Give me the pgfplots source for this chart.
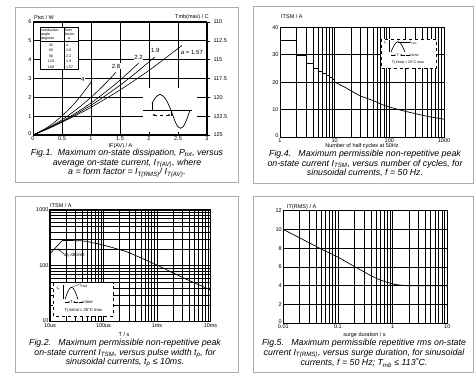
\documentclass[border=0pt]{standalone}
\usepackage{pgfplots}
\pgfplotsset{compat=1.18}
\usepackage{fontspec}
\setmainfont{Liberation Sans}
\usetikzlibrary{arrows.meta}
\newcommand{\tk}{\fontsize{5.5}{6}\selectfont}
\newcommand{\capfont}{\fontsize{8.8}{9.5}\selectfont\itshape}
\newcommand{\inft}{\fontsize{3.6}{4}\selectfont}
\pgfplotsset{
  ds/.style={scale only axis, anchor=south west,
    axis line style={line width=1pt},
    grid style={black,line width=0.75pt},
    minor grid style={black,line width=0.75pt},
    major tick length=0pt, minor tick length=0pt,
    tick label style={font=\tk},
    /pgf/number format/assume math mode=true,
    xticklabel style={yshift=1.8pt},
    yticklabel style={xshift=2pt},
  }
}
\begin{document}
\begin{tikzpicture}
\useasboundingbox (0,0) rectangle (474pt,377pt);
% ---------------- Panel 1 ----------------
\begin{axis}[ds, at={(33pt,242pt)}, width=174pt, height=113pt,
  xmin=0, xmax=3, ymin=0, ymax=6,
  xtick={0,0.5,1,1.5,2,2.5,3}, xticklabels={0,0.5,1,1.5,2,2.5,3},
  ytick={0,1,2,3,4,5,6}, yticklabels={\raisebox{2.5pt}{0},1,2,3,4,5,6}, grid=major]
\addplot[black, line width=0.6pt, smooth] coordinates {(0,0)(0.25,0.41)(0.5,1.01)(0.75,1.80)(1.0,2.80)};
\addplot[black, line width=0.6pt, smooth] coordinates {(0,0)(0.25,0.36)(0.5,0.81)(0.75,1.36)(1.0,2.0)(1.25,2.74)(1.43,3.33)};
\addplot[black, line width=0.6pt, smooth] coordinates {(0,0)(0.25,0.34)(0.5,0.73)(0.75,1.19)(1.0,1.70)(1.25,2.28)(1.5,2.91)(1.83,3.84)};
\addplot[black, line width=0.6pt, smooth] coordinates {(0,0)(0.25,0.33)(0.5,0.70)(0.75,1.12)(1.0,1.58)(1.25,2.09)(1.5,2.64)(1.75,3.24)(2.1,4.14)};
\addplot[black, line width=0.6pt, smooth] coordinates {(0,0)(0.25,0.32)(0.5,0.68)(0.75,1.06)(1.0,1.47)(1.5,2.39)(2.0,3.43)(2.57,4.76)};
\node[font=\fontsize{6}{7}\selectfont, fill=white, inner sep=0.5pt] at (axis cs:0.86,2.95) {4};
\node[font=\fontsize{6}{7}\selectfont, fill=white, inner sep=0.5pt] at (axis cs:1.43,3.66) {2.8};
\node[font=\fontsize{6}{7}\selectfont, fill=white, inner sep=0.5pt] at (axis cs:1.82,4.13) {2.2};
\node[font=\fontsize{6}{7}\selectfont, fill=white, inner sep=0.5pt] at (axis cs:2.11,4.51) {1.9};
\node[font=\fontsize{6}{7}\selectfont, fill=white, inner sep=0.5pt] at (axis cs:2.74,4.37) {a = 1.57};
\end{axis}
\begin{axis}[ds, at={(33pt,242pt)}, width=174pt, height=113pt,
  hide x axis, axis y line*=right, xmin=0, xmax=3,
  ymin=110, ymax=125, y dir=reverse,
  ytick={110,112.5,115,117.5,120,122.5,125},
  yticklabels={110,112.5,115,117.5,120,122.5,125},
  major tick length=3pt, tick align=outside, tick style={black, line width=0.5pt},
  yticklabel style={xshift=-2pt}]
\addplot[draw=none] coordinates {(0,110)};
\end{axis}
% ---------------- Fig.4 (top right) ----------------
\begin{axis}[ds, at={(280pt,239.7pt)}, width=164pt, height=110pt,
  xmode=log, xmin=1, xmax=1000, ymin=0, ymax=40,
  xtick={1,10,100,1000}, xticklabels={1,10,100,1000},
  ytick={0,10,20,30,40}, yticklabels={\raisebox{2.5pt}{0},10,20,30,40},
  xmajorgrids, xminorgrids, ymajorgrids]
\addplot[const plot, black, line width=0.7pt] coordinates {(1,35.2)(2,29.8)(3,26.9)(4,25.0)(5,23.9)(6,23.2)(7,22.5)(8,21.8)(9,21.0)(10,20.1)};
\addplot[smooth, black, line width=0.7pt] coordinates {(10,20.1)(15,18.3)(20,16.9)(30,15.0)(50,13.4)(70,12.1)(100,11.0)(200,9.4)(300,8.6)(500,7.6)(700,7.1)(1000,6.6)};
\end{axis}
% ---------------- Fig.2 (bottom left) ----------------
\begin{axis}[ds, at={(50pt,55.3pt)}, width=160.5pt, height=111.7pt,
  xmode=log, ymode=log, xmin=1e-5, xmax=1e-2, ymin=10, ymax=1000,
  xtick={1e-5,1e-4,1e-3,1e-2}, xticklabels={10us,100us,1ms,10ms},
  ytick={10,100,1000}, yticklabels={\raisebox{2.5pt}{10},100,1000},
  grid=both]
\addplot[black, line width=0.7pt] coordinates {(1e-5,165)(1.7e-5,285)};
\addplot[smooth, black, line width=0.7pt] coordinates {(1.7e-5,285)(4e-5,280)(6e-5,262)(1e-4,235)(2e-4,195)(3e-4,172)(1e-3,103)(3e-3,62)(1e-2,37)};
\end{axis}
% ---------------- Fig.5 (bottom right) ----------------
\begin{axis}[ds, at={(283.3pt,53.7pt)}, width=164pt, height=112.6pt,
  xmode=log, xmin=0.01, xmax=10, ymin=0, ymax=12,
  xtick={0.01,0.1,1,10}, xticklabels={0.01,0.1,1,10},
  ytick={0,2,4,6,8,10,12}, yticklabels={\raisebox{2.5pt}{0},2,4,6,8,10,12},
  xmajorgrids, xminorgrids, ymajorgrids]
\addplot[smooth, black, line width=0.7pt] coordinates {(0.01,10)(0.02,9.1)(0.05,7.9)(0.1,7.05)(0.2,6.05)(0.5,4.8)(1,4.2)(1.5,4.05)(2,4.0)(3,4.0)(10,4.0)};
\end{axis}
% ---------------- annotations (pixel coordinates, y down) ----------------
\begin{scope}[shift={(0,377pt)}, x=1pt, y=-1pt]
% frames
\draw[gray!65, line width=0.9pt] (15,7) rectangle (238,182);
\draw[gray!65, line width=0.9pt] (253,6) rectangle (473,183);
\draw[gray!65, line width=0.9pt] (15,196) rectangle (238,372);
\draw[gray!65, line width=0.9pt] (253,196) rectangle (473,372);
% axis labels
\node[font=\tk, anchor=west, inner sep=0] at (34,17.3) {Ptot / W};
\node[font=\tk, anchor=east, inner sep=0] at (209,17.3) {Tmb(max) / C};
\node[font=\tk, inner sep=0] at (120.5,146.5) {IF(AV) / A};
\node[font=\tk, anchor=west, inner sep=0] at (281,16.7) {ITSM / A};
\node[font=\tk, inner sep=0] at (362,146.5) {Number of half cycles at 50Hz};
\node[font=\tk, anchor=west, inner sep=0] at (50,205.7) {ITSM / A};
\node[font=\tk, inner sep=0] at (124,334.5) {T / s};
\node[font=\tk, anchor=west, inner sep=0] at (287,207.3) {IT(RMS) / A};
\node[font=\tk, inner sep=0] at (364.5,335.5) {surge duration / s};
% captions
\node[font=\capfont, align=center] at (127,163.5) {Fig.1.\ \ Maximum on-state dissipation, P\textsubscript{tot}, versus\\average on-state current, I\textsubscript{T(AV)}, where\\a = form factor = I\textsubscript{T(RMS)}/ I\textsubscript{T(AV)}.};
\node[font=\capfont, align=center] at (365,163.5) {Fig.4.\ \ \ Maximum permissible non-repetitive peak\\on-state current I\textsubscript{TSM}, versus number of cycles, for\\sinusoidal currents, f = 50 Hz.};
\node[font=\capfont, align=center] at (125,353.3) {Fig.2.\ \ \ Maximum permissible non-repetitive peak\\on-state current I\textsubscript{TSM}, versus pulse width t\textsubscript{p}, for\\sinusoidal currents, t\textsubscript{p} ≤ 10ms.};
\node[font=\capfont, align=center] at (364,353.3) {Fig.5.\ \ \ Maximum permissible repetitive rms on-state\\current I\textsubscript{T(RMS)}, versus surge duration, for sinusoidal\\currents, f = 50 Hz; T\textsubscript{mb} ≤ 113˚C.};
% panel 1 table
\fill[white] (40,27) rectangle (78,69);
\draw[line width=0.5pt] (40,27) rectangle (78,69);
\draw[line width=0.4pt] (64,27) -- (64,69);
\draw[line width=0.4pt] (40,41.7) -- (78,41.7);
\node[font=\inft, align=left, anchor=north west, inner sep=0.5pt] at (40.5,27.8) {conduction\\angle\\degrees};
\node[font=\inft, align=left, anchor=north west, inner sep=0.5pt] at (64.5,27.8) {form\\factor\\\ \ \ a};
\foreach \y/\l/\r in {45/30/4, 50.5/60/2.8, 56/90/2.2, 61.5/120/1.9, 67/180/1.57}{
  \node[font=\inft, inner sep=0] at (51,\y) {\l};
  \node[font=\inft, anchor=west, inner sep=0] at (66,\y) {\r};
}
% panel 1 sine inset
\fill[white] (143,88) rectangle (197,132);
\draw[line width=0.5pt] (143,110) -- (192,110);
\draw[line width=0.7pt] (152,110) -- (152,103.4);
\draw[line width=0.7pt] plot[smooth] coordinates {(152,103.4)(155,98.2)(160,94.3)(165,98.2)(168,103.4)(171,110)};
\draw[line width=0.7pt] (171,110) sin (180.5,128.3) cos (190,110);
\draw[line width=0.8pt, dashed, {Latex[length=2pt,width=2pt]}-{Latex[length=2pt,width=2pt]}] (152.5,115) -- (170.5,115);
\draw[line width=0.7pt] (171,110) -- (171,116);
% Fig.4 inset (top right)
\fill[white] (381,39) rectangle (436,68.3);
\draw[dashed, line width=0.6pt] (381,39) rectangle (436,68.3);
\node[font=\inft, inner sep=0] at (385.5,43) {I\textsubscript{T}};
\draw[line width=0.4pt] (389.5,40.5) -- (389.5,52.5);
\draw[line width=0.6pt] (391,52) sin (398,41.7) cos (405,52);
\draw[line width=0.3pt] (398,41.7) -- (410,41.7);
\node[font=\inft, anchor=west, inner sep=0] at (410,42.3) {I\textsubscript{TSM}};
\draw[line width=0.4pt, -{Latex[length=1.5pt,width=1.5pt]}] (391,55) -- (396,55);
\draw[line width=0.4pt, -{Latex[length=1.5pt,width=1.5pt]}] (405,55) -- (400,55);
\node[font=\inft, inner sep=0] at (398,55) {T};
\draw[line width=0.4pt, -{Latex[length=1.5pt,width=1.5pt]}] (406,55) -- (411,55);
\node[font=\inft, anchor=west, inner sep=0] at (411.5,55) {time};
\node[font=\inft, inner sep=0] at (408,63) {Tj initial = 25°C max};
% Fig.2 inset (bottom left)
\fill[white] (53.3,282.7) rectangle (113.3,316);
\draw[dashed, line width=0.6pt] (53.3,282.7) rectangle (113.3,316);
\node[font=\fontsize{4.2}{5}\selectfont, inner sep=0] at (58.3,288.5) {I\textsubscript{T}};
\draw[line width=0.4pt] (63.3,285) -- (63.3,299.5);
\draw[line width=0.6pt] (65,299.3) sin (71.5,287.3) cos (78,299.3);
\draw[line width=0.3pt] (71.5,287.3) -- (79,284.5);
\node[font=\fontsize{4.2}{5}\selectfont, anchor=west, inner sep=0] at (79.5,285.5) {I\textsubscript{TSM}};
\draw[line width=0.4pt, -{Latex[length=1.5pt,width=1.5pt]}] (65,302) -- (70,302);
\draw[line width=0.4pt, -{Latex[length=1.5pt,width=1.5pt]}] (78,302) -- (73,302);
\node[font=\fontsize{4.2}{5}\selectfont, inner sep=0] at (71.5,302) {T};
\draw[line width=0.4pt, -{Latex[length=1.5pt,width=1.5pt]}] (79,302) -- (84,302);
\node[font=\fontsize{4.2}{5}\selectfont, anchor=west, inner sep=0] at (84.5,302) {time};
\node[font=\fontsize{4.2}{5}\selectfont, inner sep=0] at (83.3,310.7) {Tj initial = 25°C max};
% dIT/dt label
\node[font=\fontsize{4.5}{5}\selectfont, anchor=west, inner sep=0] at (64,255.5) {dI\textsubscript{T}/dt limit};
\draw[line width=0.5pt, -{Latex[length=2pt,width=2pt]}] (64,254) -- (57.5,248.5);
\end{scope}
\end{tikzpicture}
\end{document}
